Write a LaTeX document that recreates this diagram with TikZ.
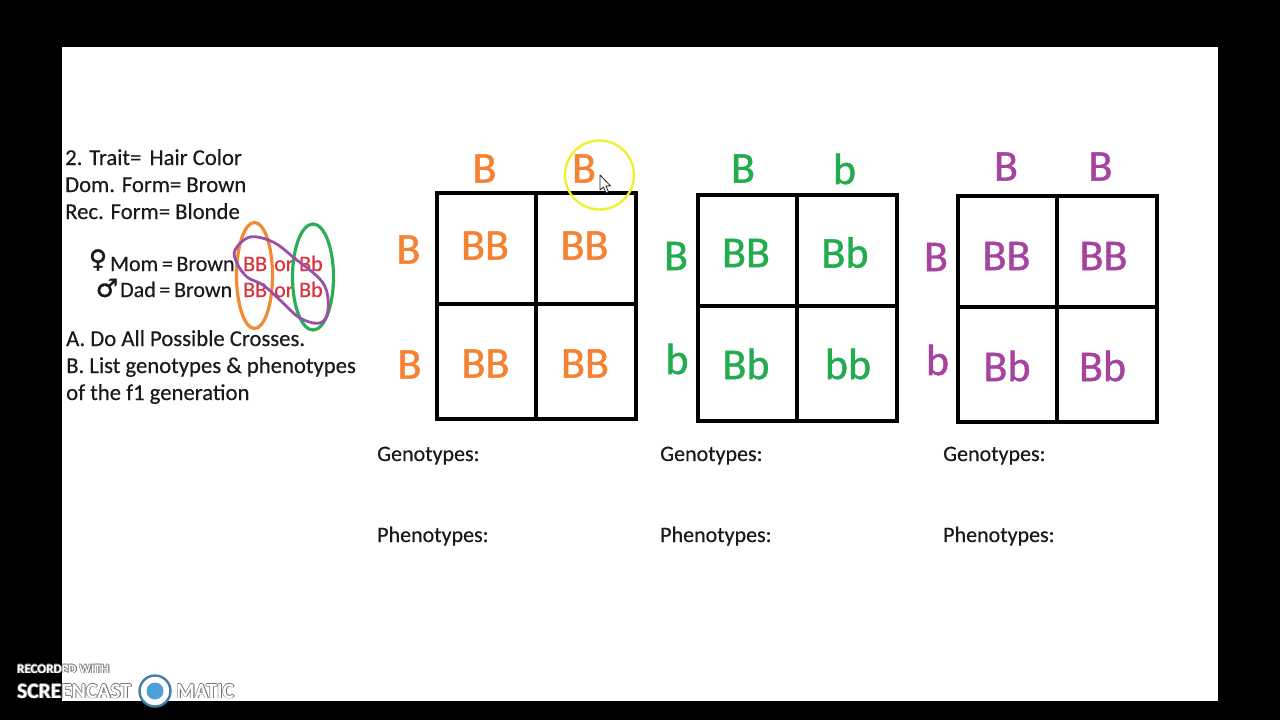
\documentclass[tikz,border=0pt]{standalone}
\usepackage{fontspec}
\setmainfont[FakeBold=0.35]{Carlito}
\newfontfamily\bigfont[FakeBold=1]{Carlito}
\newfontfamily\symfont[FakeBold=1.2]{DejaVu Sans}
\newfontfamily\wmfont{Carlito}
\definecolor{org}{HTML}{F58233}
\definecolor{grn}{HTML}{22AC4E}
\definecolor{pur}{HTML}{A6439E}
\definecolor{redt}{HTML}{D9343F}
\definecolor{ovorg}{HTML}{F08A35}
\definecolor{ovgrn}{HTML}{2BAE57}
\definecolor{ovpur}{HTML}{9B4FA8}
\definecolor{ink}{HTML}{1A1A1A}
\definecolor{wmblue}{HTML}{4E9FD8}
\definecolor{wmring}{HTML}{3F7FA8}
\definecolor{yring}{HTML}{EEF22E}
\newcommand{\wmtext}[4]{%
 \foreach \dx/\dy in {-0.7/0,0.9/0,0/-0.7,0/0.9,0.9/0.9}{
  \node[wmlabel=#1,text=black!55] at ({#2+\dx},{#3+\dy}) {#4};}
 \node[wmlabel=#1] at (#2,#3) {#4};}
\tikzset{
 txt/.style={anchor=base west,inner sep=0pt,font=\fontsize{22}{22}\selectfont,text=ink},
 lefttxt/.style={anchor=base west,inner sep=0pt,font=\fontsize{22.7}{22.7}\selectfont,text=ink},
 redtxt/.style={anchor=base west,inner sep=0pt,font=\fontsize{22}{22}\selectfont,text=redt},
 big/.style={inner sep=0pt,anchor=center,font=\bigfont\fontsize{44}{44}\selectfont},
 grid/.style={draw=black,line width=3.2pt},
 sym/.style={anchor=center,inner sep=0pt,font=\symfont\fontsize{25}{25}\selectfont,text=ink},
 wmlabel/.style={anchor=base west,inner sep=0pt,text=white,font=\wmfont\bfseries\fontsize{#1}{#1}\selectfont},
}
\begin{document}
\begin{tikzpicture}[x=1pt,y=-1pt]
\useasboundingbox (0,0) rectangle (1280,720);
\fill[black] (0,0) rectangle (1280,720);
\fill[white] (62,47) rectangle (1218,701);
% left text
\node[lefttxt] (t1) at (65,165) {2. Trait=\hspace{3pt} Hair Color};
\node[lefttxt] (t2) at (65,192) {Dom. Form= Brown};
\node[lefttxt] (t3) at (65,219) {Rec. Form= Blonde};
\node[txt] (t4) at (110,271) {Mom\,=\,Brown};
\node[txt] (t5) at (120,297) {Dad\,=\,Brown};
\node[sym] (fem) at (98,260) {♀};
\node[sym] (mal) at (107,288) {♂};
\node[redtxt] (r1) at (243,271) {BB};
\node[redtxt] (r2) at (274,271) {or};
\node[redtxt] (r3) at (299,271) {Bb};
\node[redtxt] (r4) at (243,297) {BB};
\node[redtxt] (r5) at (274,297) {or};
\node[redtxt] (r6) at (299,297) {Bb};
\node[lefttxt] (t6) at (66,346) {A. Do All Possible Crosses.};
\node[lefttxt] (t7) at (66,373) {B. List genotypes \& phenotypes};
\node[lefttxt] (t8) at (66,400) {of the f1 generation};
% ovals
\draw[ovorg,line width=3.2pt] (254.5,275.5) ellipse [x radius=18,y radius=53];
\draw[ovgrn,line width=3.2pt] (313,277) ellipse [x radius=20.5,y radius=53];
\draw[ovpur,line width=2.8pt,line join=round] plot[smooth cycle,tension=0.6] coordinates {
 (235,250) (250,237) (273,242) (293,257) (323,283) (328,310) (320,323) (300,318)
 (280,300) (263,285) (247,277) (237,263)};
% grids
\draw[grid] (437,193) rectangle (636,419);
\draw[grid] (536,193) -- (536,419);
\draw[grid] (437,304) -- (638,304);
\draw[grid] (698,195) rectangle (897,421);
\draw[grid] (797,195) -- (797,421);
\draw[grid] (698,306) -- (899,306);
\draw[grid] (958,196) rectangle (1157,422);
\draw[grid] (1057,196) -- (1057,422);
\draw[grid] (958,307) -- (1159,307);
% orange
\begin{scope}[every node/.append style={big,text=org}]
\node (a1) at (484.5,168.5) {B};
\node (a2) at (584,168.5) {B};
\node (a3) at (408.5,249.5) {B};
\node (a4) at (409.5,364.5) {B};
\node (a5) at (485,245.5) {BB};
\node (a6) at (584.5,245.5) {BB};
\node (a7) at (485.5,363.5) {BB};
\node (a8) at (585,363.5) {BB};
\end{scope}
% green
\begin{scope}[every node/.append style={big,text=grn}]
\node (b1) at (743,168.5) {B};
\node (b2) at (844.5,169) {b};
\node (b3) at (676,256) {B};
\node (b4) at (677,359) {b};
\node (b5) at (746,253) {BB};
\node (b6) at (845,252.5) {Bb};
\node (b7) at (746,364) {Bb};
\node (b8) at (848,364) {bb};
\end{scope}
% purple
\begin{scope}[every node/.append style={big,text=pur}]
\node (c1) at (1006,166.5) {B};
\node (c2) at (1100.5,166.5) {B};
\node (c3) at (936,257) {B};
\node (c4) at (937.5,360) {b};
\node (c5) at (1006.5,256) {BB};
\node (c6) at (1103.5,256) {BB};
\node (c7) at (1007,366) {Bb};
\node (c8) at (1102.5,366) {Bb};
\end{scope}
% labels below
\node[txt] (g1) at (377,461) {Genotypes:};
\node[txt] (g2) at (660,461) {Genotypes:};
\node[txt] (g3) at (943,461) {Genotypes:};
\node[txt] (p1) at (377,542) {Phenotypes:};
\node[txt] (p2) at (660,542) {Phenotypes:};
\node[txt] (p3) at (943,542) {Phenotypes:};
% highlight and cursor
\draw[yring,line width=2.4pt] (599.5,175) circle [radius=34.5];
\draw[fill=white,draw=ink,line width=0.8pt,line join=round] (600,175) -- (600,190) -- (603.5,187) -- (606,193) -- (608.5,192) -- (606,186) -- (610.5,186) -- cycle;
% watermark
\wmtext{13}{17}{673}{RECORDED WITH}
\wmtext{21.5}{17}{698}{SCREENCAST}
\wmtext{21.5}{176}{698}{MATIC}
\draw[wmring,line width=2.4pt,fill=white] (155,691) circle [radius=15.5];
\fill[wmblue] (155,691) circle [radius=8.5];
\end{tikzpicture}
\end{document}
